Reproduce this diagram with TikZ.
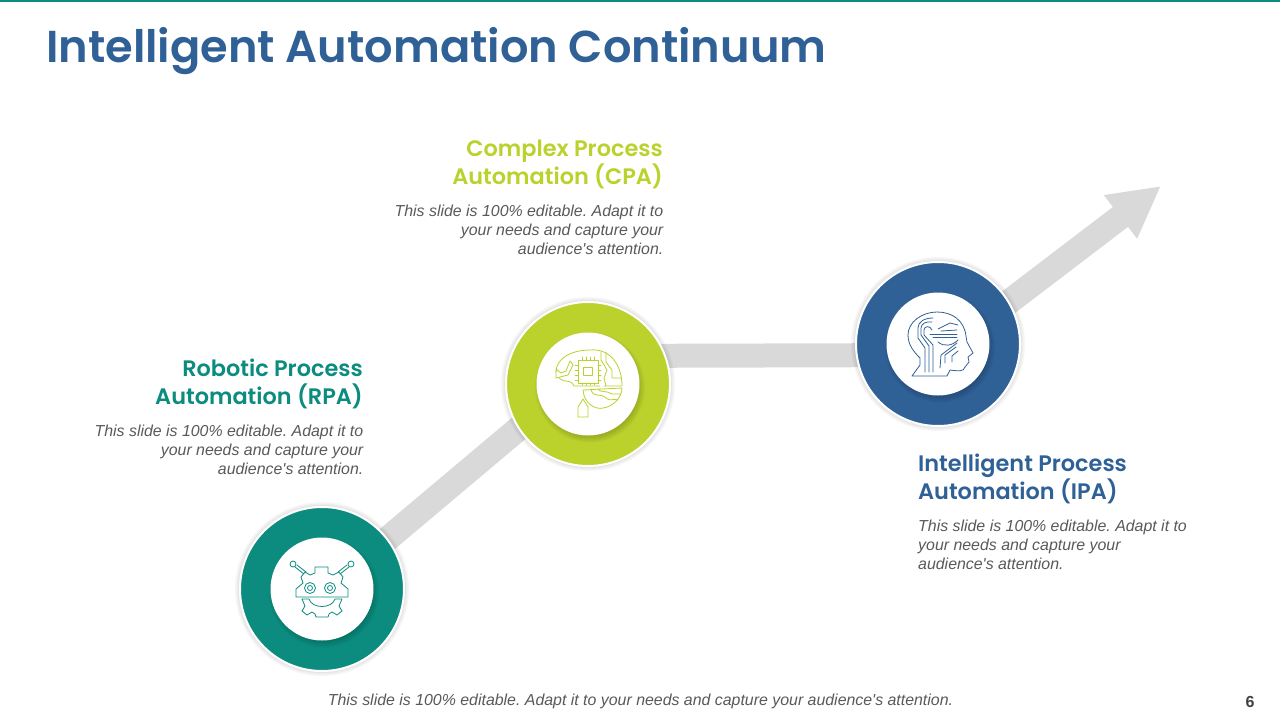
\documentclass[tikz,border=0pt]{standalone}
\usepackage{fontspec}
\setmainfont{Liberation Sans}[Ligatures=TeXOff]
\newfontfamily\headfont{Poppins SemiBold}
\usepackage{xcolor}
\usepackage{tikz}
\usetikzlibrary{arrows.meta, positioning, calc}
\definecolor{tealc}{HTML}{0B8C7F}
\definecolor{limec}{HTML}{BBD12C}
\definecolor{bluec}{HTML}{2F6096}
\definecolor{bandc}{HTML}{D9D9D9}
\definecolor{textc}{HTML}{595959}
\tikzstyle{band} = [line width=25pt, draw=bandc]
\tikzstyle{ring} = [circle, inner sep=0pt, minimum size=164pt, line width=2pt, draw=white]
\tikzstyle{hub} = [circle, inner sep=0pt, minimum size=103pt, fill=white]
\tikzstyle{head} = [font=\headfont\fontsize{22.4}{28}\selectfont, inner sep=0pt]
\tikzstyle{body} = [font=\itshape\fontsize{15.9}{19}\selectfont, text=textc, inner sep=0pt]
\tikzstyle{icon} = [line width=0.8pt, line join=round, line cap=round]
\begin{document}
\frenchspacing
\begin{tikzpicture}[x=1pt, y=-1pt]
        \useasboundingbox (0,0) rectangle (1280,720);
        \fill[tealc] (0,0) rectangle (1280,2);
        \node (title) [anchor=base west, inner sep=0pt, text=bluec, font=\headfont\fontsize{44.7}{50}\selectfont] at (46,62) {Intelligent Automation Continuum};

        \coordinate (rpac) at (322,589);
        \coordinate (cpac) at (588,384);
        \coordinate (ipac) at (938,344);
        \coordinate (tip) at (1161,186);

        % Bands
        \draw [band] ($(rpac)+(0,5)$) -- ($(cpac)+(0,-14)$);
        \draw [band, line width=24pt] ($(cpac)+(0,-28)$) -- ($(ipac)+(0,11)$);
        \draw [band, -{Triangle[length=51pt, width=51pt]}, bandc] ($(ipac)+(0,12)$) -- (tip);

        % Soft shadows under the rings
        \foreach \ringc in {rpac,cpac,ipac} {
            \foreach \r in {87,85.5,84} \fill[black, opacity=0.035] (\ringc) circle (\r);
        }

        % Rings
        \node (rpa) [ring, fill=tealc] at (rpac) {};
        \node (cpa) [ring, fill=limec] at (cpac) {};
        \node (ipa) [ring, fill=bluec] at (ipac) {};
        \foreach \ringc in {rpac,cpac,ipac} {
            \foreach \r in {55,53.5,52,50.5,49} \fill[black, opacity=0.035] ($(\ringc)+(2,3.5)$) circle (\r);
        }
        \node (rpahub) [hub] at (rpac) {};
        \node (cpahub) [hub] at (cpac) {};
        \node (ipahub) [hub] at (ipac) {};

        % Robot
        \begin{scope}[icon, draw=tealc]
            \draw (296,597) -- (296,589) -- (303,583) -- (301,577) -- (305,572) -- (310,575) -- (315,573) -- (315,567) -- (328,567) -- (328,573) -- (333,575) -- (339,572) -- (343,577) -- (341,583) -- (348,589) -- (348,597) -- cycle;
            \draw (309,599) .. controls (312,609) and (332,609) .. (335,599) -- (342,599) -- (339,606) -- (342,611) -- (337,615) -- (332,612) -- (329,614) -- (328,617) -- (316,617) -- (315,614) -- (312,612) -- (307,615) -- (302,611) -- (305,606) -- (302,599) -- cycle;
            \foreach \eyex in {310,330} {
                \draw (\eyex,588) circle (5.5);
                \draw (\eyex,588) circle (2.5);
            }
            \draw (293,564) circle (3);
            \draw (351,564) circle (3);
            \draw (295,567) -- (304,574);
            \draw (297,565) -- (306,572);
            \draw (349,567) -- (340,574);
            \draw (347,565) -- (338,572);
        \end{scope}

        % Brain
        \begin{scope}[icon, draw=limec]
            \draw (556,372) .. controls (556,358) and (572,350) .. (590,350) .. controls (610,348) and (622,365) .. (622,386) -- (604,386);
            \draw (556,369) -- (561,373) -- (566,371) -- (570,361) -- (573,365) -- (568,375) -- (556,378) -- (556,369);
            \draw (559,378) .. controls (566,384) and (570,378) .. (574,386) -- (600,386);
            \draw (578,360) rectangle (598,383);
            \draw (583,367) rectangle (592,375);
            \foreach \pinx in {582,586,590,594} {
                \draw (\pinx,357) -- (\pinx,360);
                \draw (\pinx,383) -- (\pinx,385);
            }
            \foreach \piny in {365,370,375,380} {
                \draw (575,\piny) -- (578,\piny);
                \draw (598,\piny) -- (601,\piny);
            }
            \draw (606,352) -- (606,362) -- (612,370) -- (612,378) -- (622,378);
            \draw (601,352) -- (601,360) -- (607,370) -- (604,378) -- (606,386);
            \draw (583,390) .. controls (584,404) and (596,410) .. (603,408) .. controls (612,407) and (622,398) .. (622,388) -- (583,390);
            \draw (591,389) .. controls (593,399) and (600,392) .. (606,398) .. controls (610,402) and (614,398) .. (618,400);
            \draw (598,389) .. controls (600,393) and (606,390) .. (612,394) -- (620,394);
            \draw (578,417) -- (578,407) -- (583,399) -- (588,407) -- (588,417) -- cycle;
        \end{scope}

        % Head
        \begin{scope}[icon, draw=bluec]
            \draw (912,376) -- (920,365) -- (920,358) .. controls (914,352) and (908,345) .. (908,335) .. controls (908,322) and (922,312) .. (937,312) .. controls (952,312) and (964,320) .. (966,336) -- (967,342) -- (973,353) -- (968,357) -- (969,362) -- (965,367) .. controls (964,372) and (958,371) .. (950,370) -- (947,376) -- cycle;
            \draw (925,372) -- (925,348) -- (918,338) -- (918,328) .. controls (918,322) and (924,318) .. (933,318);
            \draw (929,372) -- (929,346) -- (921,335) -- (921,328) .. controls (921,324) and (926,321) .. (932,322);
            \draw (933,372) -- (933,345) -- (924,335) -- (924,330) .. controls (924,326) and (930,325) .. (932,330);
            \draw (930,334) -- (957,334);
            \draw (933,337) -- (957,337);
            \draw (938,342) .. controls (944,347) and (952,346) .. (958,340);
            \draw (938,329) -- (950,323) -- (958,325);
            \draw (941,331) -- (957,330);
            \draw (940,368) -- (941,355) -- (957,343);
            \draw (945,363) -- (945,355) -- (956,347);
            \draw (952,362) -- (952,356) -- (958,351);
        \end{scope}

        % Text
        \node (cpahead) [head, text=limec, align=right, anchor=north east] at (663,140) {Complex Process\\Automation (CPA)};
        \node (cpabody) [body, align=right, anchor=north east] at (663.5,205) {This slide is 100\% editable. Adapt it to\\your needs and capture your\\audience's attention.};
        \node (rpahead) [head, text=tealc, align=right, anchor=north east] at (363,359) {Robotic Process\\Automation (RPA)};
        \node (rpabody) [body, align=right, anchor=north east] at (363.5,425) {This slide is 100\% editable. Adapt it to\\your needs and capture your\\audience's attention.};
        \node (ipahead) [head, text=bluec, align=left, anchor=north west] at (918,454) {Intelligent Process\\Automation (IPA)};
        \node (ipabody) [body, align=left, anchor=north west] at (918,520) {This slide is 100\% editable. Adapt it to\\your needs and capture your\\audience's attention.};
        \node (note) [body, anchor=base] at (640.5,705) {This slide is 100\% editable. Adapt it to your needs and capture your audience's attention.};
        \node (page) [anchor=base, inner sep=0pt, text=black!75, font=\bfseries\fontsize{16}{19}\selectfont] at (1250,707) {6};
\end{tikzpicture}
\end{document}
